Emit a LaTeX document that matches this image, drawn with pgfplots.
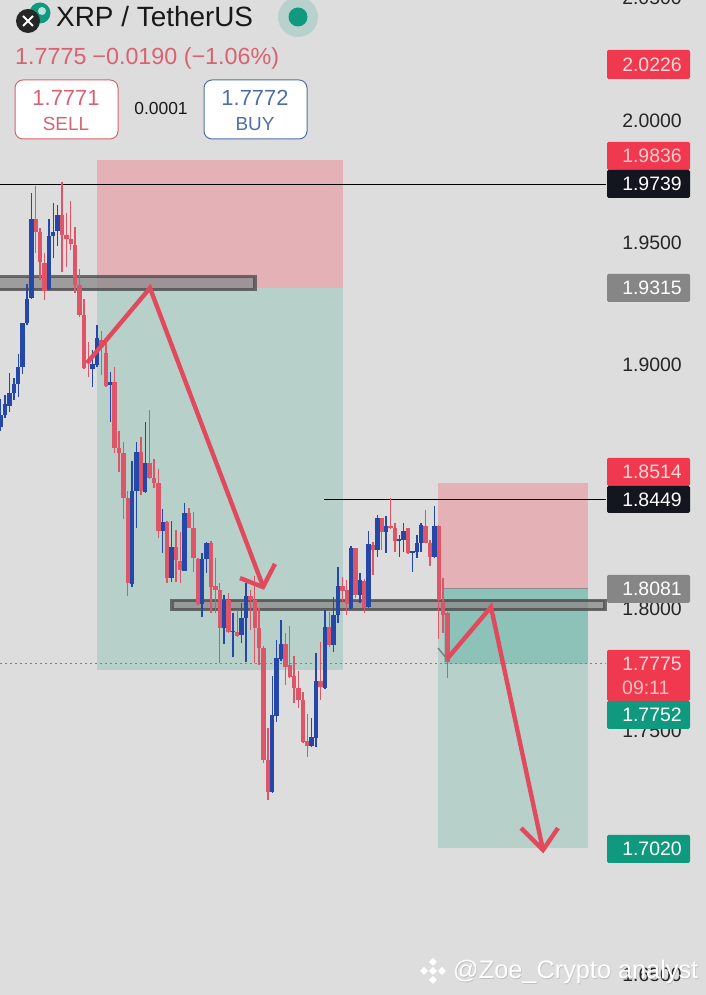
\documentclass[border=0pt]{standalone}
\usepackage{pgfplots}
\pgfplotsset{compat=1.18}
\usepackage{fontspec}
\setmainfont{Liberation Sans}
\definecolor{bgc}{HTML}{DDDDDD}
\definecolor{cred}{HTML}{DE5568}
\definecolor{cblue}{HTML}{2447A8}
\definecolor{rred}{HTML}{E3B1B6}
\definecolor{rteal}{HTML}{B7D1CA}
\definecolor{dteal}{HTML}{8CC2B8}
\definecolor{arrowred}{HTML}{E14A5C}
\definecolor{lblred}{HTML}{F0384E}
\definecolor{lblteal}{HTML}{0F9A80}
\definecolor{lblblack}{HTML}{14161F}
\definecolor{lblgray}{HTML}{868686}
\definecolor{txtred}{HTML}{DA6270}
\definecolor{txtblue}{HTML}{4D6FA8}
% one candle: colour, index, high, body top, body bottom, low
\newcommand{\Cnd}[6]{\pgfmathsetmacro\cx{0.7+4.38*#2}%
  \addplot[#1,line width=1.4bp,forget plot] coordinates {(\cx,#6)(\cx,#3)};%
  \addplot[#1,line width=4.4bp,forget plot] coordinates {(\cx,#5)(\cx,#4)};}
\newcommand{\R}[5]{\Cnd{cred}{#1}{#2}{#3}{#4}{#5}}
\newcommand{\B}[5]{\Cnd{cblue}{#1}{#2}{#3}{#4}{#5}}
% price tag in picture pixels: fill, text colour, top, bottom, text
\newcommand{\Lbl}[5]{\fill[#1,rounded corners=1.5bp] (607,#3) rectangle (690,#4);
  \node[text=#2,inner sep=0pt,font=\fontsize{19.5}{22}\selectfont] at (652,{(#3+#4)/2}) {#5};}
\begin{document}
\begin{tikzpicture}
\path[use as bounding box] (0,0) rectangle (706bp,995bp);
\clip (0,0) rectangle (706bp,995bp);
\begin{axis}[
  at={(0,0)},anchor=south west,scale only axis,width=706bp,height=995bp,
  xmin=0,xmax=706,ymin=1.64165,ymax=2.0496,
  axis line style={draw=none},tick style={draw=none},
  axis background/.style={fill=bgc},
  xtick=\empty,
  ytick={1.65,1.7,1.75,1.8,1.85,1.9,1.95,2.0},
  yticklabel pos=right,
  yticklabel style={anchor=east,xshift=-24bp,inner sep=0pt,text=black!85,
    font=\fontsize{19.5}{22}\selectfont,
    /pgf/number format/fixed,/pgf/number format/fixed zerofill,/pgf/number format/precision=4,
    /pgf/number format/assume math mode=true},
]
% position boxes
\addplot[draw=none,fill=rred,forget plot] coordinates {(97,1.9840)(343,1.9840)(343,1.9315)(97,1.9315)} --cycle;
\addplot[draw=none,fill=rteal,forget plot] coordinates {(97,1.9315)(343,1.9315)(343,1.7749)(97,1.7749)} --cycle;
\addplot[draw=none,fill=rred,forget plot] coordinates {(438,1.8514)(588,1.8514)(588,1.8081)(438,1.8081)} --cycle;
\addplot[draw=none,fill=rteal,forget plot] coordinates {(438,1.8081)(588,1.8081)(588,1.7020)(438,1.7020)} --cycle;
\addplot[draw=none,fill=dteal,forget plot] coordinates {(444,1.8081)(588,1.8081)(588,1.7775)(444,1.7775)} --cycle;
\addplot[black!45,line width=0.8bp,forget plot] coordinates {(444,1.8085)(588,1.8085)};
% horizontal lines
\addplot[black,line width=1bp,forget plot] coordinates {(0,1.9739)(606,1.9739)};
\addplot[black,line width=1bp,forget plot] coordinates {(324,1.8449)(606,1.8449)};
\addplot[cred,line width=1.5bp,dash pattern=on 2bp off 3bp,forget plot] coordinates {(0,1.7775)(606,1.7775)};
% zones
\addplot[draw=black!70,line width=3.2bp,fill=black!45,opacity=0.78,forget plot] coordinates {(-3,1.9362)(255,1.9362)(255,1.9309)(-3,1.9309)} --cycle;
\addplot[draw=black!70,line width=3.2bp,fill=black!45,opacity=0.78,forget plot] coordinates {(172,1.8034)(605,1.8034)(605,1.7997)(172,1.7997)} --cycle;
% candles: index, high, top, bottom, low
\B{0}{1.8860}{1.8795}{1.8745}{1.8729}
\B{1}{1.8876}{1.8840}{1.8795}{1.8782}
\B{2}{1.8967}{1.8885}{1.8831}{1.8807}
\B{3}{1.8946}{1.8922}{1.8885}{1.8856}
\B{4}{1.9045}{1.8991}{1.8922}{1.8868}
\B{5}{1.9172}{1.9172}{1.8991}{1.8963}
\B{6}{1.9332}{1.9270}{1.9172}{1.9164}
\B{7}{1.9705}{1.9598}{1.9274}{1.9270}
\R{8}{1.9733}{1.9598}{1.9545}{1.9459}
\R{9}{1.9561}{1.9545}{1.9422}{1.9348}
\R{10}{1.9459}{1.9418}{1.9303}{1.9266}
\B{11}{1.9598}{1.9528}{1.9311}{1.9307}
\B{12}{1.9664}{1.9545}{1.9528}{1.9438}
\B{13}{1.9656}{1.9615}{1.9549}{1.9487}
\R{14}{1.9750}{1.9615}{1.9532}{1.9381}
\R{15}{1.9623}{1.9532}{1.9516}{1.9401}
\R{16}{1.9672}{1.9516}{1.9496}{1.9471}
\R{17}{1.9565}{1.9491}{1.9328}{1.9295}
\R{18}{1.9393}{1.9328}{1.9205}{1.9196}
\R{19}{1.9270}{1.9205}{1.8987}{1.8983}
\R{20}{1.9094}{1.9012}{1.9008}{1.8950}
\B{21}{1.9061}{1.9004}{1.8983}{1.8909}
\B{22}{1.9164}{1.9110}{1.8999}{1.8991}
\R{23}{1.9139}{1.9102}{1.9073}{1.8959}
\R{24}{1.9090}{1.9049}{1.8913}{1.8909}
\B{25}{1.8971}{1.8930}{1.8917}{1.8766}
\R{26}{1.8991}{1.8930}{1.8659}{1.8639}
\R{27}{1.8729}{1.8659}{1.8639}{1.8561}
\R{28}{1.8684}{1.8639}{1.8454}{1.8368}
\R{29}{1.8483}{1.8454}{1.8106}{1.8052}
\B{30}{1.8606}{1.8483}{1.8102}{1.8089}
\B{31}{1.8684}{1.8643}{1.8483}{1.8331}
\R{32}{1.8704}{1.8643}{1.8483}{1.8466}
\B{33}{1.8766}{1.8598}{1.8479}{1.8475}
\R{34}{1.8815}{1.8598}{1.8536}{1.8532}
\R{35}{1.8614}{1.8536}{1.8516}{1.8495}
\R{36}{1.8573}{1.8516}{1.8319}{1.8290}
\B{37}{1.8409}{1.8356}{1.8319}{1.8229}
\R{38}{1.8360}{1.8356}{1.8126}{1.8106}
\B{39}{1.8360}{1.8253}{1.8126}{1.8110}
\R{40}{1.8323}{1.8253}{1.8200}{1.8110}
\R{41}{1.8315}{1.8196}{1.8159}{1.8106}
\B{42}{1.8434}{1.8393}{1.8155}{1.8155}
\R{43}{1.8413}{1.8393}{1.8331}{1.8331}
\R{44}{1.8397}{1.8331}{1.8208}{1.8151}
\R{45}{1.8208}{1.8204}{1.8020}{1.8016}
\B{46}{1.8229}{1.8204}{1.8020}{1.7966}
\B{47}{1.8274}{1.8270}{1.8204}{1.8147}
\R{48}{1.8278}{1.8270}{1.8089}{1.7983}
\R{49}{1.8208}{1.8093}{1.8077}{1.7983}
\R{50}{1.8106}{1.8077}{1.7921}{1.7778}
\B{51}{1.8056}{1.8036}{1.7921}{1.7856}
\R{52}{1.8065}{1.8036}{1.7905}{1.7901}
\B{53}{1.7983}{1.7909}{1.7905}{1.7802}
\R{54}{1.7995}{1.7905}{1.7888}{1.7884}
\B{55}{1.8024}{1.7962}{1.7892}{1.7860}
\B{56}{1.8106}{1.8052}{1.7962}{1.7782}
\R{57}{1.8077}{1.8052}{1.8036}{1.7913}
\R{58}{1.8134}{1.8036}{1.7921}{1.7778}
\R{59}{1.8003}{1.7921}{1.7839}{1.7770}
\R{60}{1.7847}{1.7839}{1.7380}{1.7368}
\R{61}{1.7511}{1.7380}{1.7249}{1.7216}
\B{62}{1.7724}{1.7565}{1.7249}{1.7245}
\B{63}{1.7872}{1.7798}{1.7560}{1.7536}
\B{64}{1.7954}{1.7856}{1.7794}{1.7786}
\R{65}{1.7901}{1.7856}{1.7761}{1.7688}
\R{66}{1.7929}{1.7770}{1.7720}{1.7716}
\R{67}{1.7806}{1.7724}{1.7675}{1.7614}
\R{68}{1.7745}{1.7675}{1.7626}{1.7593}
\R{69}{1.7659}{1.7626}{1.7454}{1.7450}
\R{70}{1.7569}{1.7458}{1.7437}{1.7392}
\B{71}{1.7552}{1.7474}{1.7437}{1.7433}
\B{72}{1.7819}{1.7704}{1.7470}{1.7433}
\R{73}{1.7864}{1.7704}{1.7679}{1.7626}
\B{74}{1.7995}{1.7925}{1.7675}{1.7671}
\R{75}{1.7987}{1.7925}{1.7851}{1.7843}
\B{76}{1.8048}{1.7975}{1.7851}{1.7823}
\B{77}{1.8171}{1.8093}{1.7975}{1.7942}
\R{78}{1.8130}{1.8093}{1.8073}{1.8024}
\R{79}{1.8118}{1.8077}{1.8020}{1.7975}
\B{80}{1.8257}{1.8249}{1.8003}{1.7999}
\R{81}{1.8249}{1.8249}{1.8056}{1.8044}
\B{82}{1.8147}{1.8118}{1.8056}{1.8024}
\R{83}{1.8122}{1.8114}{1.8003}{1.7983}
\B{84}{1.8319}{1.8266}{1.8007}{1.8003}
\R{85}{1.8274}{1.8262}{1.8241}{1.8139}
\B{86}{1.8385}{1.8372}{1.8241}{1.8212}
\R{87}{1.8372}{1.8372}{1.8315}{1.8241}
\B{88}{1.8380}{1.8339}{1.8315}{1.8229}
\R{89}{1.8454}{1.8339}{1.8331}{1.8327}
\R{90}{1.8352}{1.8331}{1.8278}{1.8233}
\B{91}{1.8303}{1.8286}{1.8278}{1.8212}
\B{92}{1.8352}{1.8319}{1.8282}{1.8233}
\R{93}{1.8331}{1.8331}{1.8229}{1.8225}
\B{94}{1.8237}{1.8237}{1.8229}{1.8151}
\B{95}{1.8303}{1.8270}{1.8233}{1.8208}
\B{96}{1.8352}{1.8344}{1.8270}{1.8233}
\R{97}{1.8405}{1.8339}{1.8270}{1.8270}
\R{98}{1.8282}{1.8270}{1.8212}{1.8175}
\B{99}{1.8421}{1.8339}{1.8212}{1.8208}
\R{100}{1.8344}{1.8339}{1.8036}{1.7876}
\R{101}{1.8126}{1.8028}{1.7975}{1.7901}
\R{102}{1.7987}{1.7983}{1.7782}{1.7716}
% hand-drawn arrows
\addplot[arrowred,line width=4.4bp,miter limit=4,forget plot] coordinates {(87,1.9008)(150,1.9315)(263,1.8093)};
\addplot[arrowred,line width=4.4bp,miter limit=4,forget plot] coordinates {(240,1.8126)(263,1.8089)(275,1.8184)};
\addplot[black!50,line width=1.5bp,forget plot] coordinates {(438,1.7839)(447,1.7794)};
\addplot[arrowred,line width=4.4bp,forget plot] coordinates {(447,1.7794)(491,1.8007)(543,1.7011)};
\addplot[arrowred,line width=4.4bp,forget plot] coordinates {(521,1.7101)(543,1.7011)(558,1.7101)};
\end{axis}
\begin{scope}[x=1bp,y=-1bp,shift={(0,995bp)}]
% partly cut top tick
\node[inner sep=0pt,text=black!85,font=\fontsize{19.5}{22}\selectfont] at (652,-2) {2.0500};
% price tags
\Lbl{lblred}{white!85!red}{50}{79}{2.0226}
\Lbl{lblred}{white!80!red}{142}{170}{1.9836}
\Lbl{lblblack}{white}{170}{198}{1.9739}
\Lbl{lblgray}{white}{274}{302}{1.9315}
\Lbl{lblred}{white!85!red}{458}{486}{1.8514}
\Lbl{lblblack}{white}{486}{513}{1.8449}
\Lbl{lblgray}{white}{575}{603}{1.8081}
\Lbl{lblteal}{white}{835}{863}{1.7020}
% last-price label
\fill[lblred,rounded corners=1.5bp] (607,650) rectangle (690,701);
\node[inner sep=0pt,text=white!85!red,font=\fontsize{19.5}{22}\selectfont] at (652,664) {1.7775};
\node[inner sep=0pt,text=white!75!red,font=\fontsize{19.5}{22}\selectfont,anchor=west] at (622,688) {09:11};
\fill[lblteal,rounded corners=1.5bp] (607,701) rectangle (690,729);
\node[inner sep=0pt,text=white,font=\fontsize{19.5}{22}\selectfont] at (652,715) {1.7752};
% header
\fill[lblteal] (40,13) circle (10.5);
\fill[white!70!lblteal] (42,11) circle (4);
\fill[black!85] (28,21) circle (12);
\draw[white,line width=2] (23,16) -- (33,26) (33,16) -- (23,26);
\fill[lblteal!18!bgc] (298,17) circle (20);
\fill[lblteal] (298,17) circle (9.5);
\node[anchor=base west,inner sep=0pt,text=black!90,font=\fontsize{28}{30}\selectfont] at (56,27) {XRP / TetherUS};
\node[anchor=base west,inner sep=0pt,text=txtred,font=\fontsize{23.4}{26}\selectfont] at (15,65) {1.7775\hspace{6bp}−0.0190 (−1.06\%)};
\draw[txtred,fill=white,line width=1bp,rounded corners=8] (15,80) rectangle (118,139);
\node[text=txtred,inner sep=0pt,font=\fontsize{22}{24}\selectfont] at (66,98) {1.7771};
\node[text=txtred,inner sep=0pt,font=\fontsize{19}{22}\selectfont] at (66,124) {SELL};
\node[text=black!90,inner sep=0pt,font=\fontsize{17.5}{20}\selectfont] at (161,109) {0.0001};
\draw[txtblue,fill=white,line width=1bp,rounded corners=8] (204,80) rectangle (307,139);
\node[text=txtblue,inner sep=0pt,font=\fontsize{22}{24}\selectfont] at (255,98) {1.7772};
\node[text=txtblue,inner sep=0pt,font=\fontsize{19}{22}\selectfont] at (255,124) {BUY};
% watermark
\foreach \dx/\dy/\s in {0/-9/4,-9/0/4,9/0/4,0/9/4,0/0/4}{
  \fill[white] (433+\dx,967+\dy) -- ++(\s,\s) -- ++(-\s,\s) -- ++(-\s,-\s) -- ++(\s,-\s);}
\node[anchor=west,inner sep=0pt,text=black!25,font=\fontsize{25.4}{28}\selectfont] at (453.7,972.7) {@Zoe\_Crypto analyst};
\node[anchor=west,inner sep=0pt,text=white,font=\fontsize{25.4}{28}\selectfont] at (453,972) {@Zoe\_Crypto analyst};
\end{scope}
\end{tikzpicture}
\end{document}
